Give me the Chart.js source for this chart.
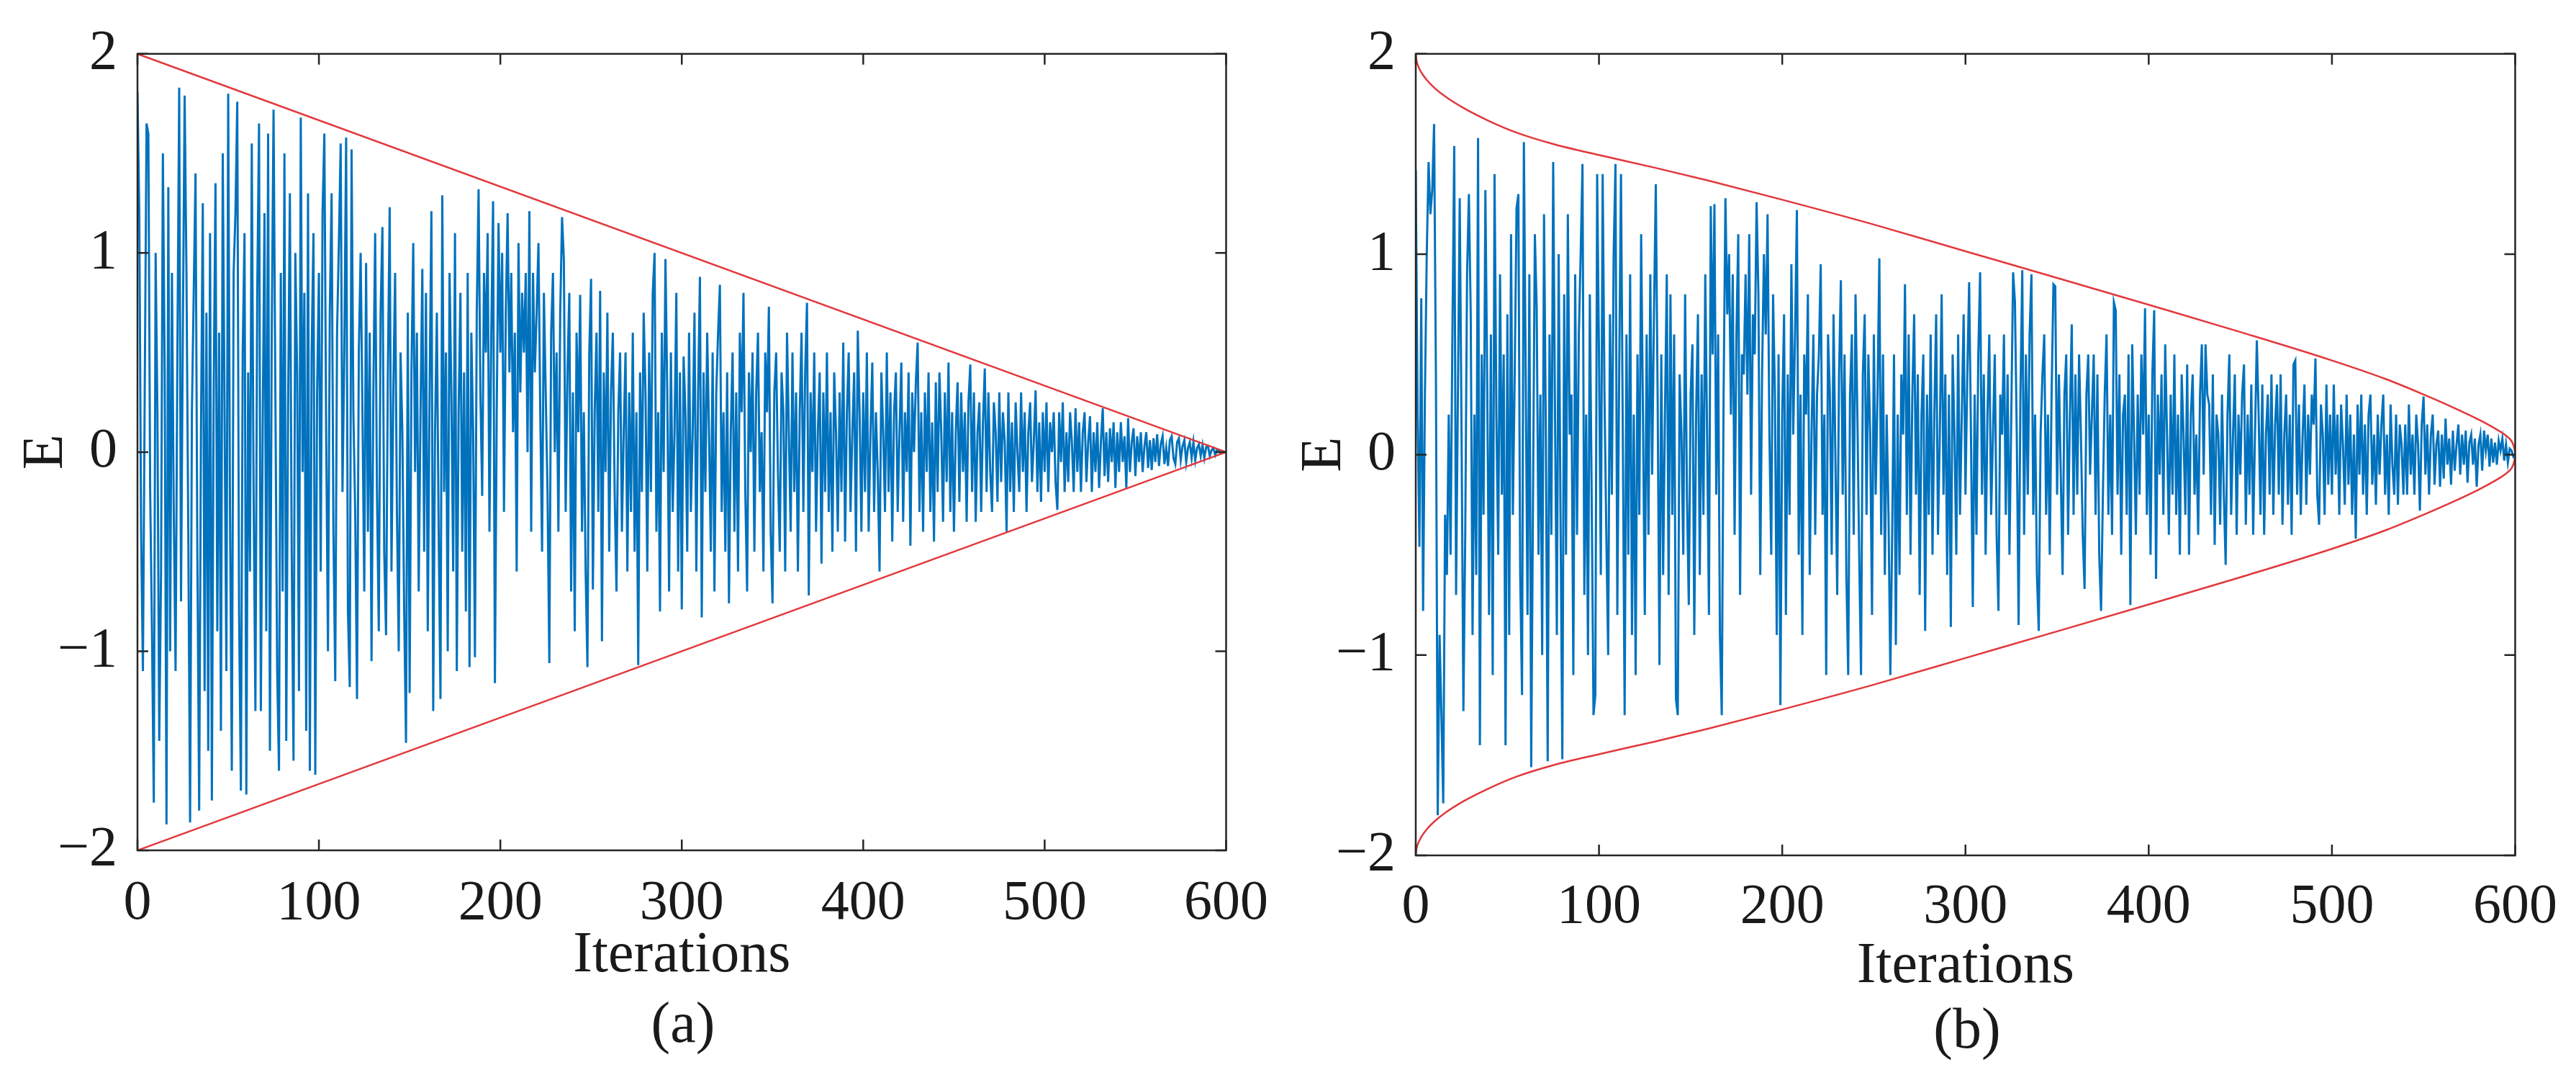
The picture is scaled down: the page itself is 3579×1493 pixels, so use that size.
<!DOCTYPE html>
<html>
<head>
<meta charset="utf-8">
<script src="https://cdn.jsdelivr.net/npm/chart.js@4.4.1/dist/chart.umd.min.js"></script>
<style>
  html, body { margin: 0; padding: 0; background: #fff; }
  body { width: 3579px; height: 1493px; position: relative; overflow: hidden; }
  canvas { position: absolute; top: 0; }
  #chartA { left: 0; }
  #chartB { left: 1790px; }
  .cap { position: absolute; font-family: 'Liberation Serif', 'Times New Roman', serif;
         font-size: 80px; line-height: 80px; color: #1a1a1a; transform: translateX(-50%); }
</style>
</head>
<body>
<canvas id="chartA" width="1790" height="1400"></canvas>
<canvas id="chartB" width="1789" height="1410"></canvas>
<div class="cap" style="left:949px; top:1380px">(a)</div>
<div class="cap" style="left:2733px; top:1388px">(b)</div>
<script>
// axis ticks
const xTicks = [0, 100, 200, 300, 400, 500, 600];
const yTicks = [-2, -1, 0, 1, 2];

// (a) error per iteration (t = 0..600)
const errA = [
  1.81, 1.2, -0.4, -1.1, 0.3, 1.65, 1.6, -0.2, -0.9, -1.76, 1.0, 0.2, -1.45, -0.6, 1.5, 0.4, -1.87, 1.33, -1.0, 0.9,
  -0.3, -1.1, 0.5, 1.83, -0.75, 0.6, 1.79, 0.9, -0.4, -1.86, 0.2, 0.8, 1.4, -0.5, -1.8, 0.1, 1.25, -1.2, 0.7, -1.5,
  1.1, -1.75, 0.3, 1.35, -0.9, 0.6, -1.4, 1.5, 0.2, -1.1, 1.8, -0.3, -1.6, 0.9, 1.2, 1.76, -0.8, -1.7, 0.5, 1.1,
  -1.72, 0.4, -0.6, 1.55, -0.2, -1.3, 0.8, 1.65, -1.3, 0.1, 1.2, -0.9, 1.6, -1.5, 0.6, 1.72, 0.3, -1.1, -1.6, 0.9,
  -0.7, 1.5, -1.45, 0.2, 1.3, -0.5, -1.55, 1.0, 0.4, -1.2, 1.68, -0.1, 0.8, -1.4, 1.3, -1.6, 0.5, 1.1, -1.62, 0.3,
  0.9, -0.6, 1.2, 1.6, 0.1, -1.0, 0.7, 1.3, -0.4, -1.15, 0.6, 1.05, 1.55, -0.2, 0.5, 1.58, -0.8, -1.18, 1.52, 0.2,
  -0.3, -1.24, 0.5, 1.0, 0.2, -0.7, 0.95, -0.4, 0.6, -1.05, 0.3, 1.1, -0.2, -0.9, 0.7, 1.13, -0.5, -0.92, 0.4, 1.23,
  -0.6, 0.3, 0.9, -0.3, -1.0, 0.5, 0.1, -0.8, -1.46, 0.7, -1.21, 0.4, 1.05, -0.1, 0.6, -0.7, 0.2, 0.92, -0.5, 0.8,
  -0.9, 0.3, 1.21, -1.3, 0.1, 0.7, -0.4, -1.24, 1.29, -0.2, 0.5, -1.0, 0.9, 0.3, -0.6, 1.1, -1.1, 0.2, 0.8, -0.5,
  0.4, -0.8, 0.9, -1.08, 0.6, 0.1, -1.03, 0.7, 1.32, 0.3, -0.22, 0.9, 0.5, 1.1, -0.4, 0.6, 1.26, -1.16, 0.2, 1.15,
  0.5, 1.0, -0.3, 0.7, 1.2, 0.4, 0.9, 0.1, 0.6, -0.6, 1.05, 0.3, 0.8, 0.5, 0.9, 0.0, 1.21, -0.4, 0.9, 0.4,
  0.7, 1.05, 0.2, -0.5, 0.8, 0.3, -0.2, -1.06, 0.6, 0.9, 0.0, 0.5, -0.4, 0.7, 1.18, 0.97, -0.3, 0.4, 0.8, -0.7,
  0.3, -0.9, 0.6, 0.1, 0.79, -0.4, 0.2, -0.6, -1.08, 0.5, 0.87, -0.69, 0.2, 0.6, -0.3, 0.81, -0.95, 0.4, -0.1, 0.7,
  -0.5, 0.3, 0.6, -0.2, -0.7, 0.2, 0.5, -0.4, 0.1, 0.5, -0.6, 0.3, -0.3, 0.6, -0.5, 0.2, -1.07, 0.4, -0.2, 0.7,
  0.3, -0.6, 0.5, -0.2, 0.8, 1.0, -0.4, 0.2, -0.8, 0.6, -0.1, 0.97, 0.3, -0.7, 0.5, -0.3, 0.1, 0.8, -0.6, 0.4,
  -0.79, 0.48, 0.2, -0.5, 0.6, -0.3, 0.1, 0.7, -0.6, 0.3, 0.88, -0.83, 0.4, -0.2, 0.6, 0.1, -0.5, 0.5, -0.7, 0.3,
  0.6, 0.84, -0.3, 0.2, -0.5, 0.4, -0.76, 0.1, 0.5, -0.4, 0.3, -0.6, 0.6, 0.2, 0.8, -0.2, -0.7, 0.4, 0.0, 0.5,
  -0.5, 0.3, 0.6, -0.2, 0.1, -0.6, 0.5, 0.2, 0.73, -0.4, -0.76, 0.3, 0.5, -0.1, -0.5, 0.4, 0.2, -0.6, 0.6, 0.1,
  -0.4, 0.5, -0.2, 0.3, -0.6, 0.2, 0.6, -0.3, 0.4, 0.75, -0.72, 0.3, -0.1, 0.5, -0.4, 0.1, 0.4, -0.56, 0.3, -0.2,
  0.5, -0.3, 0.2, -0.5, 0.4, 0.1, -0.4, 0.3, -0.2, 0.55, -0.45, 0.2, 0.5, -0.3, 0.1, 0.4, -0.5, 0.61, 0.2, -0.4,
  0.3, -0.2, 0.5, -0.4, 0.1, 0.45, -0.3, 0.2, -0.1, -0.6, 0.4, 0.1, -0.3, 0.5, -0.2, 0.3, -0.45, 0.2, 0.4, -0.3,
  0.1, 0.45, -0.35, 0.2, -0.1, 0.4, -0.47, 0.3, 0.0, 0.35, 0.55, -0.3, 0.2, -0.4, 0.3, -0.1, 0.4, -0.3, 0.15, -0.45,
  0.35, -0.2, 0.4, 0.1, -0.35, 0.3, -0.15, 0.45, -0.3, 0.2, -0.4, 0.1, 0.35, -0.25, 0.3, -0.1, 0.2, -0.35, 0.25, 0.44,
  -0.2, 0.3, -0.35, 0.1, 0.25, -0.3, 0.15, 0.42, -0.2, 0.3, -0.1, -0.3, 0.25, 0.1, -0.25, 0.3, -0.15, 0.2, 0.05, -0.4,
  0.3, -0.2, 0.15, -0.3, 0.25, 0.0, -0.2, 0.3, -0.1, 0.2, -0.3, 0.1, 0.25, -0.15, 0.05, 0.31, -0.2, 0.15, -0.25, 0.2,
  -0.1, 0.25, -0.2, 0.15, 0.0, 0.2, -0.15, -0.29, 0.2, -0.05, 0.25, -0.2, 0.1, -0.15, 0.2, 0.05, -0.2, 0.22, -0.1, 0.15,
  -0.2, 0.1, 0.2, -0.15, 0.05, 0.18, -0.2, 0.1, -0.1, 0.15, -0.18, 0.05, 0.22, -0.12, 0.1, -0.15, 0.12, -0.05, 0.15, -0.18,
  0.1, -0.1, 0.15, -0.05, 0.08, -0.18, 0.17, -0.1, 0.05, 0.12, -0.12, 0.08, -0.05, 0.1, -0.1, 0.03, 0.1, -0.08, 0.06, -0.09,
  0.07, -0.05, 0.09, -0.07, 0.04, 0.08, -0.06, 0.02, -0.07, 0.06, 0.08, -0.03, -0.06, 0.05, 0.07, -0.04, 0.03, 0.06, -0.05, 0.02,
  0.05, -0.03, 0.05, -0.04, 0.02, 0.04, -0.02, 0.035, -0.03, 0.025, 0.03, -0.02, 0.01, 0.02, -0.015, 0.012, 0.008, -0.006, 0.004, 0.0,
  0.0
];

// (b) error per iteration (t = 0..600)
const errB = [
  1.42, 0.2, -0.46, 0.78, -0.78, 0.3, 1.0, 1.46, 1.2, 1.32, 1.65, 0.4, -1.8, -0.9, -1.3, -1.74, -0.3, -0.6, 0.2, -0.5,
  0.6, 1.54, -0.7, 0.3, 1.28, 0.1, -1.28, -0.4, 0.9, 1.3, 0.7, -0.9, 0.2, -0.6, 1.58, -1.45, 0.5, -0.3, 1.32, 0.35,
  -0.8, 0.6, -1.1, 1.4, 0.2, -0.5, 0.9, -0.2, 0.5, -1.45, 0.7, -0.9, 1.1, -0.3, 0.4, 1.23, 1.3, -0.6, -1.2, 1.56,
  0.4, -0.8, 0.9, -1.56, -0.2, 1.1, 0.73, -0.5, 0.3, -1.0, 1.2, 0.1, -1.53, 0.6, -0.4, 1.46, 0.2, -0.9, 1.0, -0.3,
  -1.52, 0.8, -0.5, 1.2, 0.1, 0.3, -1.1, 0.9, -0.4, 0.6, 1.0, 1.45, -0.7, 0.2, -1.0, 0.8, -0.2, -1.3, -1.2, 1.4,
  0.5, -0.6, 1.4, 0.3, -0.4, -1.0, 0.7, -0.2, 1.0, 1.45, -0.8, 0.4, 1.4, 0.1, -1.3, 0.6, -0.5, 0.9, -0.9, 0.2,
  -1.1, 0.5, -0.3, 1.1, 0.2, -0.8, 0.6, -0.4, 0.9, -0.1, 0.7, 1.35, 0.3, -1.05, 0.5, -0.6, 0.2, 0.9, -0.7, 0.8,
  -0.3, 0.6, -1.22, -1.3, 0.4, 0.1, -0.5, 0.8, -0.2, -0.75, 0.3, 0.55, -0.9, 0.2, 0.7, -0.6, 0.4, -0.3, 0.9, 0.1,
  -0.8, 1.24, 0.5, 1.25, -0.2, 0.6, -0.9, -1.3, 0.3, 1.28, 0.7, 1.0, 0.2, 0.9, -0.4, 0.6, 1.1, -0.7, 0.5, 0.4,
  0.9, 0.3, 1.1, -0.2, 0.7, 0.5, 1.26, 0.8, -0.6, 0.4, 1.0, 0.6, 1.2, 0.1, -0.5, 0.8, 0.3, -0.9, 0.5, -1.25,
  0.2, 0.7, -0.8, 0.4, -0.3, 0.95, 0.1, 0.6, 1.22, -0.5, 0.3, -0.9, 0.5, 0.2, 0.8, -0.6, 0.1, 0.6, -0.4, 0.3,
  0.5, 0.95, -0.3, 0.2, -1.1, 0.6, 0.3, -0.5, 0.7, 0.0, -0.7, 0.4, 0.87, -0.2, 0.5, -0.6, -1.1, 0.3, 0.6, -0.4,
  0.8, 0.2, -0.5, -1.1, 0.4, 0.7, -0.3, 0.5, 0.1, -0.8, 0.6, -0.2, 0.3, 0.98, -0.4, 0.5, -0.6, 0.2, -0.3, -1.1,
  -0.4, 0.5, -0.95, 0.2, -0.6, 0.4, 0.1, 0.85, -0.3, 0.6, -0.5, 0.3, 0.7, -0.2, 0.4, -0.7, 0.2, 0.5, -0.88, 0.3,
  -0.3, 0.6, -0.5, 0.2, 0.7, -0.4, 0.1, 0.8, -0.2, 0.4, -0.6, 0.3, -0.86, 0.5, 0.1, -0.5, 0.6, -0.3, 0.2, 0.7,
  -0.2, 0.4, 0.86, 0.1, -0.76, 0.3, -0.4, 0.5, 0.91, -0.2, 0.4, -0.5, 0.2, 0.6, -0.3, 0.1, 0.5, -0.4, -0.78, 0.3,
  0.1, 0.6, -0.3, 0.4, -0.5, 0.2, 0.91, 0.76, 0.1, -0.85, 0.3, 0.92, -0.4, 0.5, -0.2, 0.6, 0.9, -0.3, 0.2, -0.6,
  -0.88, 0.1, 0.4, 0.6, -0.3, 0.2, -0.5, 0.3, 0.85, 0.84, -0.2, 0.4, -0.1, -0.6, 0.3, 0.5, -0.4, 0.2, 0.65, -0.3,
  0.4, -0.2, 0.5, 0.1, -0.4, -0.67, 0.3, 0.5, -0.1, 0.2, 0.5, -0.3, 0.4, -0.5, -0.78, -0.2, 0.3, 0.6, -0.3, 0.2,
  -0.4, 0.76, 0.72, -0.2, 0.4, -0.5, 0.2, 0.3, -0.3, 0.5, -0.75, 0.55, 0.1, -0.4, 0.3, -0.2, 0.5, 0.1, 0.73, -0.3,
  0.2, -0.5, 0.4, 0.72, -0.62, 0.3, -0.1, 0.4, -0.3, 0.55, 0.1, -0.4, 0.3, -0.2, 0.5, -0.3, 0.2, -0.5, 0.4, 0.1,
  -0.3, 0.45, -0.5, 0.2, 0.4, -0.2, 0.1, -0.4, 0.3, 0.55, -0.1, 0.55, 0.3, 0.25, -0.3, 0.4, -0.45, 0.2, 0.1, -0.35,
  0.3, -0.2, -0.55, 0.2, 0.5, -0.3, 0.1, 0.4, -0.4, 0.2, -0.1, 0.3, 0.45, -0.35, 0.2, -0.2, 0.35, -0.4, 0.1, 0.57,
  0.2, -0.3, 0.35, -0.4, 0.1, 0.3, -0.2, 0.4, -0.3, 0.15, 0.35, -0.2, 0.4, -0.35, 0.1, 0.3, -0.25, 0.2, -0.4, 0.45,
  0.47, -0.2, 0.25, -0.3, 0.1, 0.35, -0.25, 0.2, -0.1, 0.3, 0.15, 0.48, -0.2, -0.35, 0.25, 0.1, -0.3, 0.35, -0.15, 0.2,
  -0.2, 0.35, -0.1, 0.2, -0.3, 0.25, 0.05, -0.25, 0.3, -0.15, 0.2, -0.3, 0.1, -0.42, 0.25, -0.1, 0.3, -0.2, 0.15, -0.3,
  0.2, 0.3, -0.15, 0.1, -0.25, 0.2, -0.1, 0.15, 0.3, -0.2, 0.1, -0.3, 0.25, -0.05, -0.2, 0.2, -0.25, 0.15, 0.05, -0.2,
  0.15, -0.2, 0.25, -0.1, 0.1, -0.2, 0.2, 0.05, -0.28, 0.15, 0.29, -0.1, 0.15, -0.2, 0.1, 0.2, -0.15, 0.05, 0.12, -0.16,
  0.1, -0.12, 0.18, -0.05, 0.08, -0.15, 0.12, -0.08, 0.05, 0.15, -0.1, 0.1, -0.05, 0.12, -0.14, 0.06, 0.1, -0.05, 0.08, -0.16,
  0.05, 0.1, -0.08, 0.12, 0.02, 0.1, -0.06, 0.08, -0.04, 0.06, -0.05, 0.07, 0.02, 0.08, -0.03, 0.05, -0.04, 0.03, 0.02, -0.01,
  0.0
];

// envelopes
const envA_t = [0, 600];
const envA_top = [2, 0];
const envA_bot = [-2, 0];

const envB_t = [0, 0.25, 1, 3, 6, 10, 16, 26, 40, 55, 75, 100, 130, 160, 200, 250, 300, 350, 400, 450, 500, 530, 550, 565, 580, 590, 595, 598, 599, 599.75, 600];
const envB_top = [2.0, 1.975, 1.947, 1.908, 1.87, 1.832, 1.788, 1.73, 1.665, 1.607, 1.55, 1.495, 1.433, 1.367, 1.272, 1.148, 1.015, 0.882, 0.748, 0.612, 0.47, 0.375, 0.30, 0.24, 0.175, 0.125, 0.095, 0.068, 0.048, 0.022, 0.0];
const envB_bot = [-2.0, -1.975, -1.947, -1.908, -1.87, -1.832, -1.788, -1.73, -1.665, -1.607, -1.55, -1.495, -1.433, -1.367, -1.272, -1.148, -1.015, -0.882, -0.748, -0.612, -0.47, -0.375, -0.30, -0.24, -0.175, -0.125, -0.095, -0.068, -0.048, -0.022, 0.0];

const BLUE = '#0072BD';
const RED = '#e2383c';
const AXIS = '#262626';
const FONT = "'Liberation Serif', 'Times New Roman', serif";

// matlab style box with inward ticks on all four sides
const boxTicks = {
  id: 'boxTicks',
  afterDatasetsDraw(chart) {
    const {ctx, chartArea: a, scales: {x, y}} = chart;
    const len = 15;
    ctx.save();
    ctx.strokeStyle = AXIS;
    ctx.lineWidth = 2.5;
    ctx.beginPath();
    xTicks.forEach(v => {
      const px = x.getPixelForValue(v);
      ctx.moveTo(px, a.bottom); ctx.lineTo(px, a.bottom - len);
      ctx.moveTo(px, a.top); ctx.lineTo(px, a.top + len);
    });
    yTicks.forEach(v => {
      const py = y.getPixelForValue(v);
      ctx.moveTo(a.left, py); ctx.lineTo(a.left + len, py);
      ctx.moveTo(a.right, py); ctx.lineTo(a.right - len, py);
    });
    ctx.stroke();
    ctx.strokeRect(a.left, a.top, a.right - a.left, a.bottom - a.top);
    ctx.restore();
  }
};

function pts(xs, ys) {
  return ys.map((v, i) => ({x: xs[i], y: v}));
}

function makePanel(id, err, envT, envTop, envBot, g) {
  const idx = err.map((v, i) => i);
  return new Chart(document.getElementById(id), {
    type: 'line',
    data: {
      datasets: [
        {data: pts(envT, envTop), borderColor: RED, borderWidth: 2.5, pointRadius: 0, cubicInterpolationMode: 'monotone', order: 0},
        {data: pts(envT, envBot), borderColor: RED, borderWidth: 2.5, pointRadius: 0, cubicInterpolationMode: 'monotone', order: 0},
        {data: pts(idx, err), borderColor: BLUE, borderWidth: 3, pointRadius: 0, tension: 0, order: 1}
      ]
    },
    options: {
      responsive: false,
      animation: false,
      devicePixelRatio: 1,
      layout: {padding: {left: 0, top: g.padTop, right: g.padRight, bottom: 0}},
      plugins: {legend: {display: false}, tooltip: {enabled: false}},
      scales: {
        x: {
          type: 'linear', min: 0, max: 600,
          grid: {display: false, drawTicks: false},
          border: {display: false},
          afterFit: s => { s.height = g.xHeight; },
          afterBuildTicks: s => { s.ticks = xTicks.map(v => ({value: v})); },
          ticks: {padding: g.xTickPad, maxRotation: 0, autoSkip: false, color: '#1a1a1a',
                  font: {family: FONT, size: 78}},
          title: {display: true, text: 'Iterations', color: '#1a1a1a',
                  font: {family: FONT, size: 80}, padding: {top: 0, bottom: g.xTitlePad}}
        },
        y: {
          type: 'linear', min: -2, max: 2,
          grid: {display: false, drawTicks: false},
          border: {display: false},
          afterFit: s => { s.width = g.yWidth; },
          afterBuildTicks: s => { s.ticks = yTicks.map(v => ({value: v})); },
          ticks: {padding: 28, color: '#1a1a1a', font: {family: FONT, size: 78},
                  callback: v => v < 0 ? '\u2212' + Math.abs(v) : String(v)},
          title: {display: true, text: 'E', color: '#1a1a1a',
                  font: {family: FONT, size: 80}, padding: {top: g.yTitlePad, bottom: 0}}
        }
      }
    },
    plugins: [boxTicks]
  });
}

makePanel('chartA', errA, envA_t, envA_top, envA_bot,
  {padTop: 61, padRight: 83, yWidth: 191, xHeight: 219, xTickPad: 28, xTitlePad: 24, yTitlePad: 17});
makePanel('chartB', errB, envB_t, envB_top, envB_bot,
  {padTop: 69, padRight: 79, yWidth: 177, xHeight: 222, xTickPad: 26, xTitlePad: 19, yTitlePad: 3});
</script>
</body>
</html>
